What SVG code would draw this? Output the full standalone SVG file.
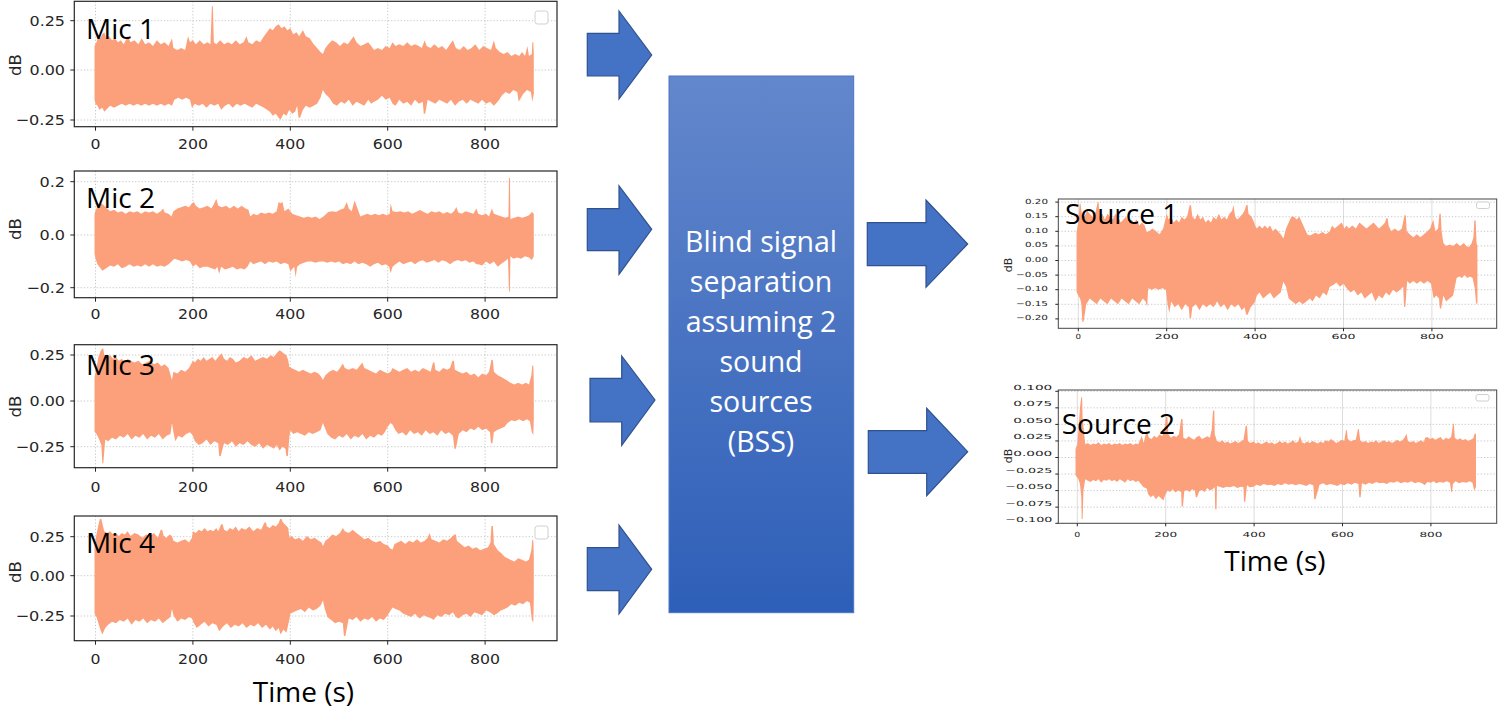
<svg xmlns="http://www.w3.org/2000/svg" width="1498" height="708" viewBox="0 0 1498 708">
<style>
.bg{fill:#fff}
.wave{fill:#FCA07B}
.frame{fill:none;stroke:#262626;stroke-width:1.2}
.sframe{fill:none;stroke:#444;stroke-width:1}
.grid{fill:none;stroke:#b8b8b8;stroke-width:0.8;stroke-dasharray:1.2,2}
.vgrid{fill:none;stroke:#dddddd;stroke-width:1}
.ticks{fill:none;stroke:#262626;stroke-width:1}
.tk{font-family:"DejaVu Sans",sans-serif;font-size:14.5px;fill:#262626}
.tkx{text-anchor:middle}
.tky{text-anchor:end}
.stk{font-family:"DejaVu Sans",sans-serif;font-size:7px;fill:#222}
.ylab{font-family:"DejaVu Sans",sans-serif;font-size:16.5px;fill:#262626;text-anchor:middle}
.sylab{font-family:"DejaVu Sans",sans-serif;font-size:11px;fill:#262626;text-anchor:middle}
.lbl{font-family:"Open Sans",sans-serif;font-size:28px;fill:#000}
.legend{fill:#fff;stroke:#d0d0d0;stroke-width:1}
.arrow{fill:#4472C4;stroke:#2F528F;stroke-width:1.2;stroke-linejoin:miter}
.bsst{font-family:"Open Sans",sans-serif;font-size:28.5px;fill:#fff;text-anchor:middle}
</style>
<defs>
<linearGradient id="bssg" x1="0" y1="0" x2="0" y2="1">
<stop offset="0" stop-color="#6387CC"/>
<stop offset="1" stop-color="#2E5FB8"/>
</linearGradient>
</defs>
<rect class="bg" x="0" y="0" width="1498" height="708"/>

<g id="mic1">
<path class="grid" d="M95.5,1.3V126.7M192.9,1.3V126.7M290.3,1.3V126.7M387.7,1.3V126.7M485.1,1.3V126.7M74.3,20.7H557M74.3,70H557M74.3,120H557"/>
<path class="wave" transform="translate(95.5,70) scale(0.487,-1.99)" d="M-2,12 L2,14 6,17 10,16 14,18 18,19 22,16 28,17 34,15 40,16 46,14 52,15 58,13 66,17 72,14 80,15 88,13 95,16 102,13 110,14 118,12 126,15 134,13 142,14 150,12 157,16 160,11 168,10 176,11 184,10 190,17 194,14 200,15 206,13 214,15 222,13 230,14 236,13 239,32 241,32 243,14 248,13 256,15 264,13 272,14 280,13 288,15 296,13 304,14 310,17 314,14 322,13 330,15 338,14 346,17 352,19 358,21 364,20 370,22 376,23 382,21 388,22 394,20 400,21 406,18 413,19 418,17 426,20 432,17 440,16 448,13 455,11 462,9 467,8 472,11 478,13 486,15 494,14 502,12 510,14 518,13 524,15 530,17 536,14 544,12 552,13 560,14 566,12 572,10 580,11 588,10 596,12 604,11 610,14 616,12 624,13 632,12 640,14 648,12 656,13 664,12 670,11 676,15 680,12 688,11 696,13 704,11 712,12 720,10 728,13 734,15 740,11 748,10 756,12 764,10 772,11 780,13 788,10 796,12 804,11 812,10 818,15 822,11 830,9 838,8 846,9 854,7 862,8 870,7 876,9 882,7 887,12 890,7 896,8 897,14 899,14 900,8 900,-12 897,-16 894,-11 886,-10 878,-12 869,-16 866,-11 858,-10 850,-12 842,-11 834,-13 829,-15 822,-17 818,-18 810,-16 802,-17 794,-15 786,-17 778,-16 770,-15 762,-17 754,-15 746,-16 738,-18 730,-15 722,-17 714,-16 706,-15 698,-17 690,-16 682,-15 677,-22 674,-22 672,-16 664,-17 656,-15 648,-18 640,-16 632,-17 624,-15 616,-18 610,-17 604,-14 596,-15 588,-13 580,-15 572,-16 566,-17 560,-15 552,-18 544,-17 536,-16 528,-18 520,-15 512,-17 504,-16 496,-18 488,-17 480,-14 472,-12 467,-10 462,-14 455,-17 448,-18 440,-19 432,-18 426,-20 420,-24 417,-24 414,-18 410,-21 404,-22 398,-20 392,-23 386,-22 380,-25 376,-24 370,-22 364,-23 358,-21 352,-20 346,-19 338,-18 330,-17 322,-19 314,-18 306,-17 298,-18 290,-17 282,-19 274,-17 266,-18 258,-20 252,-17 244,-18 236,-17 228,-19 220,-17 212,-18 204,-17 198,-19 194,-15 186,-14 178,-15 170,-14 162,-15 157,-18 150,-17 142,-18 134,-17 126,-18 118,-17 110,-18 102,-17 94,-18 86,-17 78,-18 70,-17 62,-18 54,-17 46,-18 38,-19 30,-18 22,-20 18,-21 14,-19 8,-20 4,-18 0,-17 -2,-15 Z"/>
<rect class="frame" x="74.3" y="1.3" width="482.7" height="125.4"/>
<path class="ticks" d="M95.5,126.7v4M192.9,126.7v4M290.3,126.7v4M387.7,126.7v4M485.1,126.7v4M74.3,20.7h-4M74.3,70h-4M74.3,120h-4"/>
<rect class="legend" x="535" y="11" width="13" height="13" rx="2.5"/>
<g class="tk tkx">
<text x="95.5" y="149" textLength="10" lengthAdjust="spacingAndGlyphs">0</text>
<text x="192.9" y="149" textLength="30" lengthAdjust="spacingAndGlyphs">200</text>
<text x="290.3" y="149" textLength="30" lengthAdjust="spacingAndGlyphs">400</text>
<text x="387.7" y="149" textLength="30" lengthAdjust="spacingAndGlyphs">600</text>
<text x="485.1" y="149" textLength="30" lengthAdjust="spacingAndGlyphs">800</text>
</g>
<g class="tk tky">
<text x="65" y="26" textLength="35.5" lengthAdjust="spacingAndGlyphs">0.25</text>
<text x="65" y="75.3" textLength="35.5" lengthAdjust="spacingAndGlyphs">0.00</text>
<text x="65" y="125.3" textLength="49.5" lengthAdjust="spacingAndGlyphs">−0.25</text>
</g>
<text class="ylab" transform="translate(20.5,65) rotate(-90)">dB</text>
<text class="lbl" x="86" y="39.3">Mic 1</text>
</g>

<g id="mic2">
<path class="grid" d="M95.5,171V297.7M192.9,171V297.7M290.3,171V297.7M387.7,171V297.7M485.1,171V297.7M74.3,181.7H557M74.3,235H557M74.3,287.7H557"/>
<path class="wave" transform="translate(95.5,235) scale(0.487,-2.65)" d="M-2,8 L2,10 6,11 12,12 18,11 24,10 30,9 38,9.5 46,8.5 54,9 62,8 70,9 78,8.5 86,9 94,8 102,9 110,8.5 118,9 126,8 134,9 139,10 142,8.5 150,8 156,7 160,9 168,10 176,10.5 184,11 192,10.5 198,12 202,12.5 206,11 214,10 222,10.5 230,11 238,10 244,12 248,13.7 252,11 260,10.5 268,11 276,10 284,11 292,10 300,11 308,10 314,9.5 318,7 324,8 332,7.5 340,8.5 348,8 356,8.5 364,8 372,9 376,12.5 380,12 384,12.5 388,9 396,10 404,8 412,7.5 420,7 428,6.5 436,7 444,6.5 452,7 460,6 468,7 478,8.7 486,9 494,8.7 502,9.5 510,10 516,12.5 520,10 526,9 532,13 536,11 544,7 550,7.5 558,8 566,7.5 574,8 582,7.5 590,8 598,7.5 604,8 606,12 610,9 618,8.7 626,9 634,8.5 642,9 650,8 658,8.7 666,9.4 674,8.7 682,8 690,9 698,8.5 706,9 714,8 722,8.7 730,8 736,9 741,10.6 745,8.5 752,8 760,9 768,8.5 776,8 782,10 786,8 794,7.5 802,8 808,7 814,10 818,8 826,7.5 834,7 842,6.5 848,7 849,21.5 851,21.5 852,6 860,6.5 868,7 876,6.5 884,7 890,7.5 896,8.7 900,8 900,-8 896,-9.4 890,-8.5 882,-8 874,-9 866,-8.5 858,-9 852,-8 851,-21.3 849,-21.3 847,-9 840,-10 832,-11 826,-12 818,-10 810,-11 802,-10 794,-11.5 786,-11 782,-11 776,-10 768,-10.5 760,-9.5 752,-10 744,-9.4 736,-10 728,-11 720,-10 712,-9.5 704,-10.5 696,-9.4 688,-10 680,-10.5 672,-9.5 664,-10 656,-11 648,-10 640,-10.5 632,-11 624,-10 616,-11 610,-12 606,-14.4 603,-12 596,-11 588,-11.5 580,-10.5 572,-11 564,-12 556,-11 548,-10.5 540,-11 532,-10 524,-11 516,-10.5 508,-11 500,-10 492,-10.5 484,-10 476,-10.5 468,-10 460,-10 452,-10.5 444,-10 436,-10 428,-10.5 420,-11 414,-12 411,-16 408,-12 400,-13.7 396,-11 388,-10.5 380,-11 372,-10 364,-10.5 356,-10 348,-11 340,-10 332,-10.5 324,-11 318,-10 312,-12 306,-13 298,-12.5 290,-13 282,-12 274,-12.5 266,-13 258,-12 254,-14.6 250,-12 246,-13 238,-12.5 230,-12 222,-12 214,-12.5 206,-11 200,-12 194,-10 186,-9.4 178,-10 170,-9.4 162,-9 156,-10 150,-11 142,-12 134,-11.5 126,-12 118,-11 110,-12 102,-11 94,-12 86,-11.5 78,-12 70,-11 62,-12 54,-12.5 46,-11 38,-12 30,-11.5 22,-12.5 14,-13.5 8,-12 4,-11 0,-9 -2,-7 Z"/>
<rect class="frame" x="74.3" y="171" width="482.7" height="126.7"/>
<path class="ticks" d="M95.5,297.7v4M192.9,297.7v4M290.3,297.7v4M387.7,297.7v4M485.1,297.7v4M74.3,181.7h-4M74.3,235h-4M74.3,287.7h-4"/>
<g class="tk tkx">
<text x="95.5" y="319.3" textLength="10" lengthAdjust="spacingAndGlyphs">0</text>
<text x="192.9" y="319.3" textLength="30" lengthAdjust="spacingAndGlyphs">200</text>
<text x="290.3" y="319.3" textLength="30" lengthAdjust="spacingAndGlyphs">400</text>
<text x="387.7" y="319.3" textLength="30" lengthAdjust="spacingAndGlyphs">600</text>
<text x="485.1" y="319.3" textLength="30" lengthAdjust="spacingAndGlyphs">800</text>
</g>
<g class="tk tky">
<text x="65" y="187" textLength="25.5" lengthAdjust="spacingAndGlyphs">0.2</text>
<text x="65" y="240.3" textLength="25.5" lengthAdjust="spacingAndGlyphs">0.0</text>
<text x="65" y="293" textLength="38.5" lengthAdjust="spacingAndGlyphs">−0.2</text>
</g>
<text class="ylab" transform="translate(20.5,229) rotate(-90)">dB</text>
<text class="lbl" x="86" y="207.7">Mic 2</text>
</g>

<g id="mic3">
<path class="grid" d="M95.5,344.7V467.7M192.9,344.7V467.7M290.3,344.7V467.7M387.7,344.7V467.7M485.1,344.7V467.7M74.3,355H557M74.3,401H557M74.3,446.7H557"/>
<path class="wave" transform="translate(95.5,401) scale(0.487,-1.834)" d="M-2,13 L2,18 6,24 10,27 14,28.6 16,28.6 18,25 24,24 30,25 36,23 42,24 48,22 54,23 60,21 66,23 72,22 80,21 88,22 96,20 104,21 112,22 120,20 128,21 135,19 142,20 150,18 157,11.4 160,16 168,15 176,17 184,16 192,18 200,22 204,21 210,23 216,22 222,24 228,22 234,23 240,24 246,22 252,24 259,26 264,23 270,22 276,24 282,23 288,21 296,22 304,24 312,23 320,25 328,22 336,23 344,24 352,23 360,25 366,24 372,26 378,27.7 382,27 386,26 392,25 396,22 398,18.7 402,18 410,17 418,16 426,17 434,16 442,15 450,16 458,15 464,13 467,11.4 472,14 480,16 488,17 496,16 502,18 508,20.5 512,18 520,17 528,18 536,17 542,19 548,21 552,18 560,17 568,16 576,15 584,17 592,16 600,15 606,16 610,18 616,17 624,16 632,17 640,18 648,16 656,17 664,16 672,18 680,17 688,16 693,21 696,21 698,17 706,16 714,18 722,17 728,18 733,22 736,22 738,17 746,16 754,15 762,16 770,14 778,15 786,13 794,15 802,14 808,16 813,22.3 816,22.3 818,16 826,14 834,13 840,12 846,11 852,10 860,9 868,10 876,9 884,10 890,9 895,14 897,19.6 899,19 900,10 900,-10 899,-18.5 896,-17 892,-11 886,-10 878,-11 870,-10 862,-11 854,-10.5 846,-12 840,-14 832,-15 824,-16 818,-17 815,-23 812,-23 810,-17 802,-15 794,-16 786,-14 778,-16 770,-15 762,-17 754,-16 746,-18 740,-26 737,-26 734,-19 726,-17 718,-18 710,-16 702,-19 694,-17 686,-18 678,-16 670,-19 662,-17 654,-18 646,-16 638,-19 630,-17 622,-18 616,-16 610,-13 606,-12 600,-14 594,-17 588,-19 580,-18 572,-20 564,-19 556,-21 548,-18 540,-20 532,-19 524,-21 516,-18 508,-20 500,-19 492,-21 484,-20 476,-18 470,-14 467,-12 462,-16 454,-17 446,-18 438,-17 430,-19 422,-18 414,-17 406,-18 400,-16 398,-20 395,-30 392,-30 390,-26 384,-25 378,-27 372,-24 366,-26 360,-25 352,-24 344,-26 336,-23 328,-25 320,-24 312,-22 304,-24 296,-23 288,-25 280,-22 272,-24 264,-23 257,-30 254,-30 252,-23 244,-22 236,-24 228,-21 220,-23 212,-24 204,-22 200,-19 194,-17 186,-18 178,-20 170,-19 164,-22 160,-17 157,-12 154,-18 146,-19 138,-21 130,-18 122,-20 114,-19 106,-21 98,-18 90,-20 82,-19 74,-21 66,-18 58,-20 50,-19 42,-21 34,-20 26,-22 20,-21 16,-33.9 14,-33.9 12,-24 6,-20 2,-18 -2,-16.7 Z"/>
<rect class="frame" x="74.3" y="344.7" width="482.7" height="123"/>
<path class="ticks" d="M95.5,467.7v4M192.9,467.7v4M290.3,467.7v4M387.7,467.7v4M485.1,467.7v4M74.3,355h-4M74.3,401h-4M74.3,446.7h-4"/>
<g class="tk tkx">
<text x="95.5" y="491.7" textLength="10" lengthAdjust="spacingAndGlyphs">0</text>
<text x="192.9" y="491.7" textLength="30" lengthAdjust="spacingAndGlyphs">200</text>
<text x="290.3" y="491.7" textLength="30" lengthAdjust="spacingAndGlyphs">400</text>
<text x="387.7" y="491.7" textLength="30" lengthAdjust="spacingAndGlyphs">600</text>
<text x="485.1" y="491.7" textLength="30" lengthAdjust="spacingAndGlyphs">800</text>
</g>
<g class="tk tky">
<text x="65" y="360.3" textLength="35.5" lengthAdjust="spacingAndGlyphs">0.25</text>
<text x="65" y="406.3" textLength="35.5" lengthAdjust="spacingAndGlyphs">0.00</text>
<text x="65" y="452" textLength="49.5" lengthAdjust="spacingAndGlyphs">−0.25</text>
</g>
<text class="ylab" transform="translate(20.5,406.7) rotate(-90)">dB</text>
<text class="lbl" x="86" y="375">Mic 3</text>
</g>

<g id="mic4">
<path class="grid" d="M95.5,516V640.7M192.9,516V640.7M290.3,516V640.7M387.7,516V640.7M485.1,516V640.7M74.3,536.7H557M74.3,575.7H557M74.3,616H557"/>
<path class="wave" transform="translate(95.5,575.7) scale(0.487,-1.586)" d="M-2,18.6 L2,26 6,32 9,35.7 12,35.7 14,33 18,28 24,27 30,28 36,26 42,27 48,25 54,27 60,26 66,28 72,25 80,27 88,26 96,24 104,26 112,25 120,27 128,24 134,29 137,29 140,25 146,24 152,26 157,25 160,22 168,21 176,22 184,23 192,21 198,24 200,28 206,27 212,29 218,28 224,30 230,28 236,29 242,28 248,30 252,28 258,32.5 261,32.5 264,29 270,28 276,30 282,29 288,31 294,28 300,30 308,29 316,31 324,28 332,30 340,29 347,33.5 350,33.5 352,31 358,30 364,32 370,31 376,33 379,35.7 382,35.7 384,34 390,32 396,30 398,24 402,25 410,23 418,24 426,22 434,25 442,23 450,24 458,22 464,21 467,18.6 472,22 480,24 486,26 494,25 502,27 508,30 512,28 520,27 528,29 536,27 544,25 552,23 560,24 568,22 576,21 584,22 592,20 600,19 606,17 610,16.5 614,20 620,21 628,22 636,20 644,22 652,21 660,23 668,21 676,22 682,24 686,27 690,23 698,22 706,21 714,23 722,22 730,24 737,26 740,26 742,22 750,20 758,18 766,19 774,17 782,18 790,16 798,17 806,18 811,21 813,31.4 816,31.4 818,20 826,16 834,14 840,12 846,11 852,10 860,9 868,11 876,10 884,9 890,10 895,16 897,22.9 899,22 900,12 900,-14 899,-29.5 896,-28 892,-17 886,-16 878,-18 870,-17 862,-19 854,-18 846,-20 840,-21 832,-22 824,-24 818,-25 810,-23 802,-22 794,-25 786,-24 778,-23 770,-26 762,-24 754,-25 746,-27 740,-26 734,-23 726,-25 718,-24 710,-26 702,-25 694,-28 690,-27 682,-26 674,-25 666,-27 662,-26 656,-24 648,-26 640,-25 632,-24 624,-22 616,-21 610,-20 606,-22 600,-25 592,-28 584,-27 576,-29 568,-26 560,-28 552,-27 544,-29 536,-26 528,-28 520,-27 513,-38 510,-38 508,-30 500,-29 492,-30 484,-28 476,-26 470,-20 467,-15.6 462,-19 454,-21 446,-22 438,-20 430,-23 422,-21 414,-22 406,-23 400,-24 398,-28 392,-36 386,-34 380,-37 376,-33 370,-35 364,-32 358,-34 350,-31 342,-33 334,-30 326,-32 318,-31 310,-33 302,-30 294,-32 286,-31 278,-33 270,-30 262,-32 254,-35 248,-31 240,-30 232,-32 224,-29 216,-31 208,-33 202,-30 198,-27 192,-26 184,-28 176,-27 168,-29 160,-25 157,-21 154,-26 146,-28 138,-30 130,-27 122,-29 114,-28 106,-30 98,-27 90,-29 82,-28 74,-31 66,-27 58,-29 50,-28 42,-30 34,-29 26,-31 20,-33 14,-37 10,-34 6,-30 2,-26 -2,-24 Z"/>
<rect class="frame" x="74.3" y="516" width="482.7" height="124.7"/>
<path class="ticks" d="M95.5,640.7v4M192.9,640.7v4M290.3,640.7v4M387.7,640.7v4M485.1,640.7v4M74.3,536.7h-4M74.3,575.7h-4M74.3,616h-4"/>
<rect class="legend" x="535" y="526" width="13" height="13" rx="2.5"/>
<g class="tk tkx">
<text x="95.5" y="664" textLength="10" lengthAdjust="spacingAndGlyphs">0</text>
<text x="192.9" y="664" textLength="30" lengthAdjust="spacingAndGlyphs">200</text>
<text x="290.3" y="664" textLength="30" lengthAdjust="spacingAndGlyphs">400</text>
<text x="387.7" y="664" textLength="30" lengthAdjust="spacingAndGlyphs">600</text>
<text x="485.1" y="664" textLength="30" lengthAdjust="spacingAndGlyphs">800</text>
</g>
<g class="tk tky">
<text x="65" y="542" textLength="35.5" lengthAdjust="spacingAndGlyphs">0.25</text>
<text x="65" y="581" textLength="35.5" lengthAdjust="spacingAndGlyphs">0.00</text>
<text x="65" y="621.3" textLength="49.5" lengthAdjust="spacingAndGlyphs">−0.25</text>
</g>
<text class="ylab" transform="translate(20.5,572) rotate(-90)">dB</text>
<text class="lbl" x="86" y="552.7">Mic 4</text>
<text class="lbl" x="303.5" y="701.7" text-anchor="middle">Time (s)</text>
</g>

<g id="bss">
<rect x="669" y="76" width="184.7" height="536.7" fill="url(#bssg)" stroke="#4A76C6" stroke-width="1"/>
<text class="bsst" x="761" y="252">Blind signal</text>
<text class="bsst" x="761" y="292">separation</text>
<text class="bsst" x="761" y="332">assuming 2</text>
<text class="bsst" x="761" y="372">sound</text>
<text class="bsst" x="761" y="412">sources</text>
<text class="bsst" x="761" y="452">(BSS)</text>
</g>

<g id="source1">
<path class="vgrid" d="M1078.3,199V328.3M1166.7,199V328.3M1255.1,199V328.3M1343.5,199V328.3M1431.9,199V328.3"/>
<path class="grid" d="M1058.3,202.1H1496.7M1058.3,216.7H1496.7M1058.3,231.3H1496.7M1058.3,245.9H1496.7M1058.3,260.5H1496.7M1058.3,275.1H1496.7M1058.3,289.7H1496.7M1058.3,304.3H1496.7M1058.3,318.9H1496.7"/>
<path class="wave" transform="translate(1078.3,260.5) scale(0.442,-2.92)" d="M-4,9.8 L0,13 3,19.4 5,19.4 8,16 14,15 20,17 26,16 32,15 38,16 44,20 46,20 48,15 54,16 60,14 66,16 72,15 78,14 84,16 90,15 96,13 102,14 108,15 114,13 120,14 126,13 132,14 138,12 144,13 150,12 155,9.8 160,10 168,11 176,10 184,9 192,11 200,16 204,14 210,15 216,13 222,14 228,13 234,15 240,14 246,15 252,18.9 255,18.9 258,15 264,14 270,16 276,14 282,15 288,13 294,14 300,13 306,15 312,14 318,16 324,14 330,15 336,14 342,16 348,17 351,19 355,15 360,14 366,15 372,16 376,17 380,19 383,19 385,16 392,15 398,13 400,12 404,11 410,12 416,11 422,12 428,11 434,12 440,10 446,11 452,10 458,9 464,7.5 470,11 476,13 482,15 488,15 494,14 500,15 506,13 512,11 518,9 524,8.6 530,9 536,9.5 544,9 552,9.8 560,9 569,10 574,12 580,11 588,12 596,13 602,11 607,12 612,11 620,12 628,11 636,13 644,12 652,11 660,12 668,13 674,12 680,11 688,12 694,13 697,14.5 700,14.5 702,12 708,10 716,11 724,10 732,11 738,15.5 741,15.5 743,10 750,9 758,8 766,9 774,8 782,9 790,10 796,11 803,14 808,10 814,11 817,16 820,16 822,10 826,6 832,5 840,5.5 848,5 856,6 864,5 872,6 878,5 884,4.5 890,6 894,8 896,13.7 899,13.7 901,6 903,5 903,-14.7 900,-14.7 897,-9.5 892,-6 886,-5.5 880,-6 874,-5 868,-6 862,-5.5 856,-6 848,-12 840,-13 832,-14 826,-12 821,-16.4 818,-16.4 816,-13 810,-12 804,-13 798,-8 790,-7 782,-8 774,-7 766,-8 758,-7 750,-8 744,-7 740,-15.8 737,-15.8 735,-9 728,-10 720,-11 712,-10 704,-12 696,-11 688,-13 680,-12 672,-14 664,-11 656,-12 648,-13 640,-11 632,-12 624,-10 616,-11 607,-9.5 600,-8 592,-9 584,-7.5 576,-8.5 569,-9 562,-12 554,-11 546,-13 538,-12 530,-14 524,-13 516,-14 508,-15 500,-14 492,-15 484,-14 476,-13 470,-9 464,-7.3 458,-11 450,-12 442,-13 434,-11 426,-12 418,-13 410,-11 404,-12 400,-14 396,-15 390,-16 383,-18.6 380,-18.6 376,-16 370,-17 362,-15 354,-16 346,-15 338,-17 330,-15 322,-16 314,-14 306,-16 298,-15 290,-16 282,-15 274,-17 266,-15 258,-16 255,-19.8 252,-19.8 250,-16 242,-15 234,-17 226,-15 218,-16 210,-14 206,-18 202,-15 198,-10 190,-9.5 182,-10 174,-9.5 166,-10 158,-9.5 156,-15.8 152,-14 146,-13 138,-15 130,-14 122,-13 114,-15 106,-14 98,-13 90,-15 82,-14 74,-13 66,-15 58,-14 50,-13 42,-15 34,-14 26,-13 18,-15 12,-21 9,-21 7,-15 4,-13 0,-12 -4,-10.7 Z"/>
<rect class="sframe" x="1058.3" y="199" width="438.4" height="129.3"/>
<path class="ticks" d="M1078.3,328.3v3M1166.7,328.3v3M1255.1,328.3v3M1343.5,328.3v3M1431.9,328.3v3M1058.3,202.1h-3M1058.3,216.7h-3M1058.3,231.3h-3M1058.3,245.9h-3M1058.3,260.5h-3M1058.3,275.1h-3M1058.3,289.7h-3M1058.3,304.3h-3M1058.3,318.9h-3"/>
<rect class="legend" x="1476.5" y="202" width="13" height="6.5" rx="2"/>
<g class="stk" text-anchor="middle">
<text x="1078.3" y="339" textLength="5.5" lengthAdjust="spacingAndGlyphs">0</text>
<text x="1166.7" y="339" textLength="24" lengthAdjust="spacingAndGlyphs">200</text>
<text x="1255.1" y="339" textLength="24" lengthAdjust="spacingAndGlyphs">400</text>
<text x="1343.5" y="339" textLength="24" lengthAdjust="spacingAndGlyphs">600</text>
<text x="1431.9" y="339" textLength="24" lengthAdjust="spacingAndGlyphs">800</text>
</g>
<g class="stk" text-anchor="end">
<text x="1048" y="203.6" textLength="23" lengthAdjust="spacingAndGlyphs">0.20</text>
<text x="1048" y="218.2" textLength="23" lengthAdjust="spacingAndGlyphs">0.15</text>
<text x="1048" y="232.8" textLength="23" lengthAdjust="spacingAndGlyphs">0.10</text>
<text x="1048" y="247.4" textLength="23" lengthAdjust="spacingAndGlyphs">0.05</text>
<text x="1048" y="262" textLength="23" lengthAdjust="spacingAndGlyphs">0.00</text>
<text x="1048" y="276.6" textLength="32" lengthAdjust="spacingAndGlyphs">−0.05</text>
<text x="1048" y="291.2" textLength="32" lengthAdjust="spacingAndGlyphs">−0.10</text>
<text x="1048" y="305.8" textLength="32" lengthAdjust="spacingAndGlyphs">−0.15</text>
<text x="1048" y="320.4" textLength="32" lengthAdjust="spacingAndGlyphs">−0.20</text>
</g>
<text class="sylab" transform="translate(1011.5,265) rotate(-90)">dB</text>
<text class="lbl" x="1065" y="224.3">Source 1</text>
</g>

<g id="source2">
<path class="vgrid" d="M1077.3,390V523.3M1165.7,390V523.3M1254.1,390V523.3M1342.5,390V523.3M1430.9,390V523.3"/>
<path class="grid" d="M1058.3,391.3H1496.7M1058.3,407.85H1496.7M1058.3,424.4H1496.7M1058.3,440.95H1496.7M1058.3,457.5H1496.7M1058.3,474.05H1496.7M1058.3,490.6H1496.7M1058.3,507.15H1496.7"/>
<path class="wave" transform="translate(1077.3,457.5) scale(0.442,-0.662)" d="M-4,13 L0,20 3,45 6,75 9,91 11,91 12,60 15,40 18,20 24,22 30,19 36,21 42,20 48,23 54,19 60,21 66,20 72,22 78,19 84,21 90,20 96,22 102,19 108,21 114,20 120,22 126,19 132,21 138,20 146,33 150,22 157,41 162,30 168,28 174,33 180,30 186,35 192,32 196,38 201,61 204,61 206,35 212,30 218,33 224,31 230,35 235,58 238,58 240,30 246,28 252,32 258,29 264,27 270,31 276,33 282,28 288,30 294,32 300,30 304,42 307,71 310,71 311,35 316,25 322,23 328,26 334,22 340,24 346,21 352,23 358,25 364,22 370,24 376,27 381,48 384,48 386,25 392,22 398,24 404,21 410,23 416,20 422,22 428,24 434,21 440,23 446,20 452,22 458,25 464,22 470,24 476,21 482,23 488,26 494,22 500,24 504,33 508,23 514,21 520,24 526,22 532,25 538,23 544,21 550,24 556,22 562,26 568,24 574,28 580,25 586,22 592,24 598,27 604,25 608,41 610,41 612,28 618,24 624,26 630,27 635,43 637,43 640,26 646,23 652,25 658,22 664,24 670,23 676,26 682,22 688,24 694,26 700,23 706,25 712,22 718,24 724,27 730,24 736,26 740,30 745,36 748,25 754,23 760,25 766,22 772,24 778,26 784,23 787,30 792,31 798,28 804,30 810,27 816,29 822,31 828,26 834,30 840,28 846,31 850,51 852,51 854,30 860,27 866,29 872,26 878,28 884,25 890,27 896,29 899,36 902,36 902,-45 898,-50 894,-38 888,-36 880,-38 872,-37 864,-39 856,-36 850,-40 848,-52 846,-52 843,-38 836,-36 828,-38 820,-37 812,-39 806,-36 800,-38 792,-37 786,-42 780,-39 772,-37 764,-39 756,-36 748,-38 740,-37 732,-39 724,-36 716,-38 708,-37 700,-40 692,-38 684,-39 676,-37 668,-40 660,-38 652,-41 644,-39 641,-60 638,-60 636,-40 628,-38 620,-41 612,-39 604,-42 596,-40 588,-43 580,-41 572,-40 564,-42 556,-39 548,-41 539,-63 536,-63 534,-42 526,-40 518,-43 510,-41 502,-40 494,-42 486,-40 478,-41 470,-39 462,-42 454,-40 446,-43 438,-41 430,-42 422,-40 414,-43 406,-41 398,-44 390,-45 384,-42 380,-67 377,-67 376,-45 370,-44 362,-46 354,-43 346,-45 338,-44 330,-46 322,-44 316,-43 315,-78 312,-78 311,-45 306,-48 300,-50 294,-46 288,-52 282,-49 276,-51 271,-60 268,-60 266,-50 260,-48 254,-52 248,-49 242,-51 239,-74 236,-74 235,-52 228,-50 222,-53 216,-48 210,-52 204,-50 198,-58 195,-65 190,-62 184,-58 178,-63 172,-57 166,-60 160,-55 157,-47 150,-45 144,-40 138,-35 132,-37 126,-34 120,-36 114,-33 108,-38 102,-35 96,-33 90,-37 84,-34 78,-36 72,-33 66,-35 60,-34 54,-38 48,-33 42,-36 36,-34 30,-37 24,-35 18,-33 14,-50 12,-93 10,-93 9,-60 6,-40 2,-32 -4,-27 Z"/>
<rect class="sframe" x="1058.3" y="390" width="438.4" height="133.3"/>
<path class="ticks" d="M1077.3,523.3v3M1165.7,523.3v3M1254.1,523.3v3M1342.5,523.3v3M1430.9,523.3v3M1058.3,391.3h-3M1058.3,407.85h-3M1058.3,424.4h-3M1058.3,440.95h-3M1058.3,457.5h-3M1058.3,474.05h-3M1058.3,490.6h-3M1058.3,507.15h-3M1058.3,523.3h-3"/>
<rect class="legend" x="1476" y="394.5" width="13" height="6.5" rx="2"/>
<g class="stk" text-anchor="middle">
<text x="1077.3" y="536.5" textLength="6" lengthAdjust="spacingAndGlyphs">0</text>
<text x="1165.7" y="536.5" textLength="23" lengthAdjust="spacingAndGlyphs">200</text>
<text x="1254.1" y="536.5" textLength="23" lengthAdjust="spacingAndGlyphs">400</text>
<text x="1342.5" y="536.5" textLength="23" lengthAdjust="spacingAndGlyphs">600</text>
<text x="1430.9" y="536.5" textLength="23" lengthAdjust="spacingAndGlyphs">800</text>
</g>
<g class="stk" text-anchor="end">
<text x="1052.3" y="389.8" textLength="39" lengthAdjust="spacingAndGlyphs">0.100</text>
<text x="1052.3" y="406.3" textLength="39" lengthAdjust="spacingAndGlyphs">0.075</text>
<text x="1052.3" y="422.9" textLength="39" lengthAdjust="spacingAndGlyphs">0.050</text>
<text x="1052.3" y="439.4" textLength="39" lengthAdjust="spacingAndGlyphs">0.025</text>
<text x="1052.3" y="456" textLength="39" lengthAdjust="spacingAndGlyphs">0.000</text>
<text x="1052.3" y="472.5" textLength="47" lengthAdjust="spacingAndGlyphs">−0.025</text>
<text x="1052.3" y="489.1" textLength="47" lengthAdjust="spacingAndGlyphs">−0.050</text>
<text x="1052.3" y="505.6" textLength="47" lengthAdjust="spacingAndGlyphs">−0.075</text>
<text x="1052.3" y="521.8" textLength="47" lengthAdjust="spacingAndGlyphs">−0.100</text>
</g>
<text class="sylab" transform="translate(1011.5,456) rotate(-90)">dB</text>
<text class="lbl" x="1061.7" y="434.3">Source 2</text>
<text class="lbl" x="1275" y="571" text-anchor="middle">Time (s)</text>
</g>

<g id="connectors">
<polygon class="arrow" points="587.3,33.3 619,33.3 619,11 651.7,55 619,99 619,76 587.3,76"/>
<polygon class="arrow" points="587.3,208.7 619,208.7 619,185.7 651.7,229.3 619,274.3 619,250.7 587.3,250.7"/>
<polygon class="arrow" points="590,378.3 621.7,378.3 621.7,356 655,400 621.7,445.3 621.7,422 590,422"/>
<polygon class="arrow" points="587.3,547.7 619,547.7 619,525 651.7,569.3 619,614 619,590.7 587.3,590.7"/>
<polygon class="arrow" points="867.3,222.7 926,222.7 926,200 967.7,244 926,287.3 926,265.7 867.3,265.7"/>
<polygon class="arrow" points="868.3,430.7 926.7,430.7 926.7,408.3 967.7,451.7 926.7,495.7 926.7,473.3 868.3,473.3"/>
</g>
</svg>
